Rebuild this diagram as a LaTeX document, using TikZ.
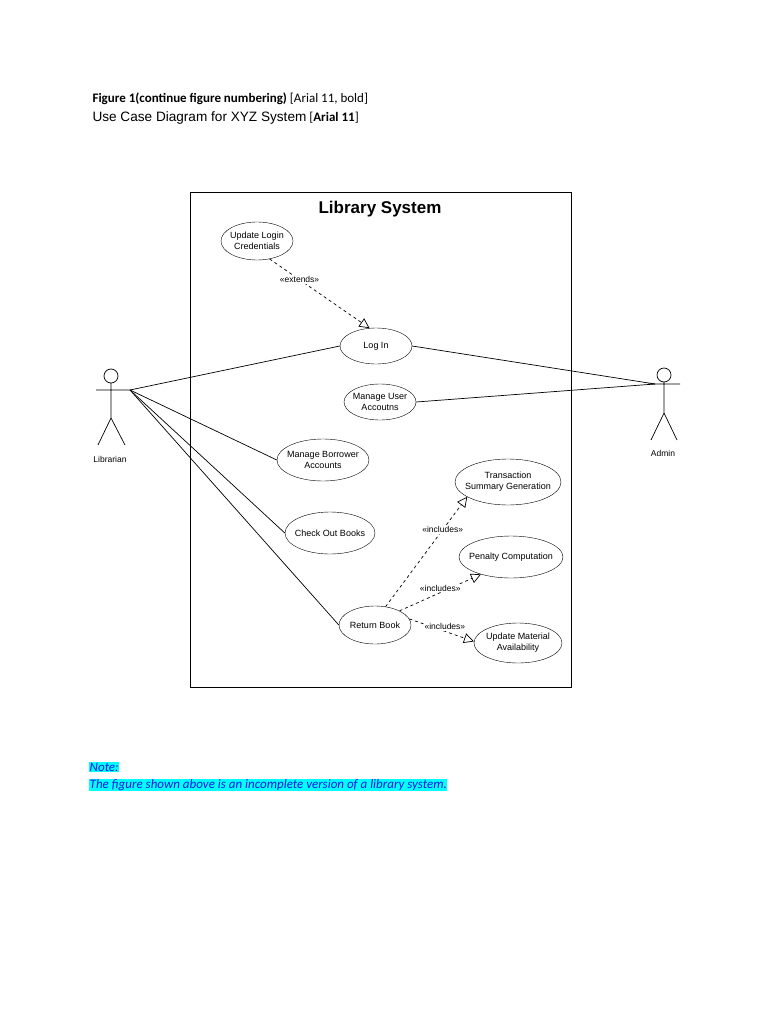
\documentclass[tikz,border=0pt]{standalone}
\usepackage{fontspec}
\setmainfont{Carlito}
\newfontfamily\arial{Liberation Sans}
\usetikzlibrary{shapes.geometric,arrows.meta}
\definecolor{hlcyan}{RGB}{0,255,255}
\definecolor{hlblue}{RGB}{20,20,230}
\begin{document}
\begin{tikzpicture}[x=1pt,y=-1pt,
  uc/.style={draw,ellipse,inner xsep=-8pt,inner ysep=-2pt,font=\arial\fontsize{9}{11}\selectfont,align=center},
  assoc/.style={draw,line width=0.7pt},
  dep/.style={draw,dashed,line width=0.7pt,-{Triangle[open,length=10pt,width=10pt]}},
  lbl/.style={font=\arial\fontsize{8.5}{9}\selectfont,fill=white,inner sep=1pt},
  hl/.style={fill=hlcyan,inner sep=0.5pt,text=hlblue,font=\fontsize{13}{15}\selectfont\itshape}]
\useasboundingbox (0,0) rectangle (768,1024);
\fill[white] (0,0) rectangle (768,1024);
\node[anchor=west,font=\fontsize{13}{15}\selectfont] (h1) at (89,99) {\textbf{Figure 1(continue figure numbering)} [Arial 11, bold]};
\node[anchor=west,font=\fontsize{13}{15}\selectfont] (h2) at (89,118) {{\arial\fontsize{13.6}{15}\selectfont Use Case Diagram for XYZ System} [\textbf{Arial 11}]};
\node[draw,line width=0.7pt,minimum width=381pt,minimum height=495pt,anchor=north west] (sys) at (190,192) {};
\node[font=\arial\bfseries\fontsize{17}{19}\selectfont] (title) at (380,209) {Library System};
\node[uc,minimum width=72pt,minimum height=38pt] (ulc) at (257,241) {Update Login\\Credentials};
\node[uc,minimum width=72pt,minimum height=36pt] (login) at (376,346) {Log In};
\node[uc,minimum width=72pt,minimum height=36pt] (mua) at (380,402) {Manage User\\Accoutns};
\node[uc,minimum width=92pt,minimum height=42pt] (mba) at (323,460) {Manage Borrower\\Accounts};
\node[uc,minimum width=90pt,minimum height=42pt] (cob) at (330,533) {Check Out Books};
\node[uc,minimum width=72pt,minimum height=38pt] (rb) at (375,625) {Return Book};
\node[uc,minimum width=106pt,minimum height=46pt] (tsg) at (508,482) {Transaction\\Summary Generation};
\node[uc,minimum width=104pt,minimum height=42pt] (pc) at (511,557) {Penalty Computation};
\node[uc,minimum width=88pt,minimum height=40pt] (uma) at (518,643) {Update Material\\Availability};
% Librarian
\draw[line width=0.7pt] (111,376) circle (7) (111,383) -- (111,418) (96,390) -- (130,390) (98,445) -- (111,418) -- (125,445);
\coordinate (libh) at (130,390);
\node[font=\arial\fontsize{8.5}{9}\selectfont] (libl) at (110,459) {Librarian};
% Admin
\draw[line width=0.7pt] (664,375) circle (7) (664,382) -- (664,413) (648,384) -- (680,384) (651,440) -- (664,413) -- (677,440);
\coordinate (admh) at (655,384);
\node[font=\arial\fontsize{8.5}{9}\selectfont] (adml) at (663,453) {Admin};
\draw[assoc] (libh) -- (login.west);
\draw[assoc] (libh) -- (mba.west);
\draw[assoc] (libh) -- (cob.west);
\draw[assoc] (libh) -- (rb.west);
\draw[assoc] (admh) -- (login.east);
\draw[assoc] (admh) -- (mua.east);
\draw[dep] (ulc.-55) -- (login.110) node[lbl,pos=0.3] {«extends»};
\draw[dep] (rb.60) -- (tsg.200) node[lbl,pos=0.7] {«includes»};
\draw[dep] (rb.30) -- (pc.210) node[lbl,pos=0.5,above] {«includes»};
\draw[dep] (rb.10) -- (uma.178) node[lbl,pos=0.55,above] {«includes»};
\node[hl,anchor=west] (n1) at (89,767) {Note:};
\node[hl,anchor=west] (n2) at (89,785) {The figure shown above is an incomplete version of a library system.};
\end{tikzpicture}
\end{document}
